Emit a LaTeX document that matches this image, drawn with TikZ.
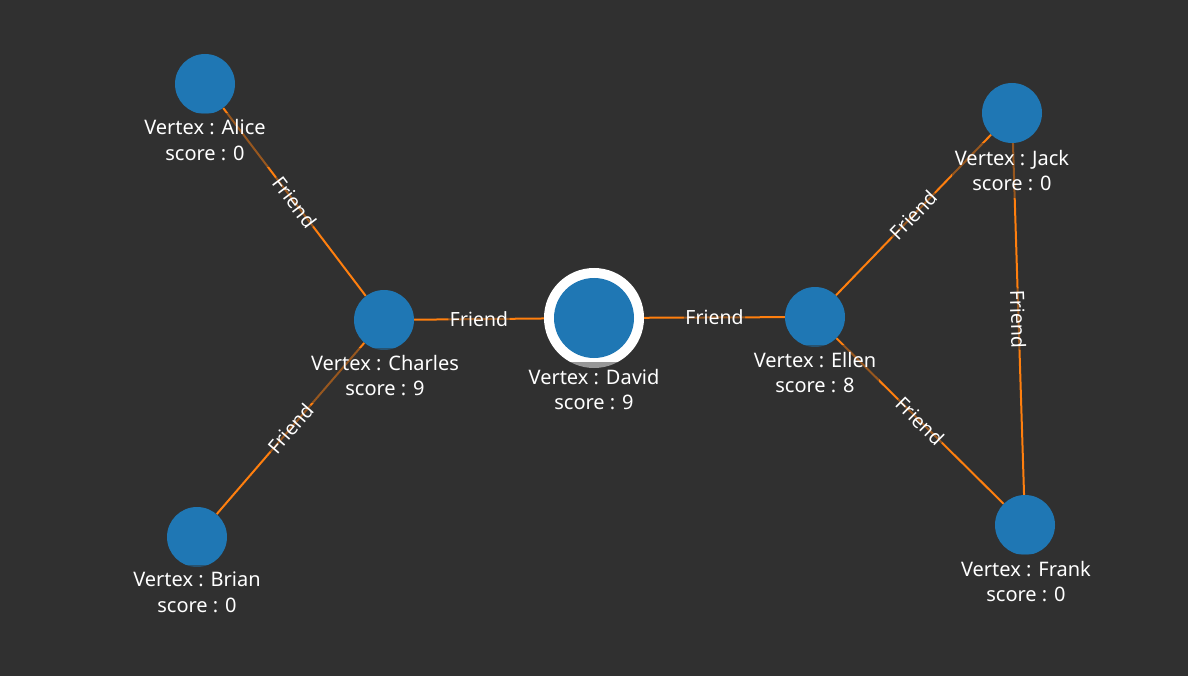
\documentclass[tikz,border=0pt]{standalone}
\usepackage{fontspec}
\setmainfont{Noto Sans}
\usetikzlibrary{backgrounds}
\definecolor{bg}{HTML}{303030}
\definecolor{nodeblue}{HTML}{1F77B4}
\definecolor{edgeor}{HTML}{FF7F0E}
\pgfdeclarelayer{edgelayer}
\pgfsetlayers{background,edgelayer,main}
\begin{document}
\begin{tikzpicture}[x=1pt,y=-1pt,
  vertex/.style={circle,fill=nodeblue,minimum size=60pt,inner sep=0pt},
  ring/.style={circle,fill=white,minimum size=100pt,inner sep=0pt},
  inner/.style={circle,fill=nodeblue,minimum size=80pt,inner sep=0pt},
  vlabel/.style={fill=bg,fill opacity=0.5,text opacity=1,text=white,align=center,
    font=\fontsize{20}{25.5}\selectfont,inner xsep=3pt,inner ysep=7pt},
  link/.style={draw=edgeor,line width=2pt},
  elabel/.style={sloped,midway,fill=bg,fill opacity=0.5,text opacity=1,text=white,
    font=\fontsize{19.5}{22}\selectfont,inner sep=1.5pt}]
\begin{scope}[on background layer]
\fill[bg] (0,0) rectangle (1188,676);
\end{scope}
\useasboundingbox (0,0) rectangle (1188,676);
% vertices
\node[vertex] (alice) at (205,84) {};
\node[vertex] (charles) at (384,320) {};
\node[vertex] (brian) at (197,537) {};
\node[ring] (david) at (594,318) {};
\node[inner] (davidin) at (594,318) {};
\node[vertex] (ellen) at (815,317) {};
\node[vertex] (jack) at (1012,113) {};
\node[vertex] (frank) at (1025,525) {};
% vertex labels
\node[vlabel] (alicel) at (205,140) {Vertex : Alice\\score : 0};
\node[vlabel] (charlesl) at (385,375.5) {Vertex : Charles\\score : 9};
\node[vlabel] (brianl) at (197,592.5) {Vertex : Brian\\score : 0};
\node[vlabel] (davidl) at (594,389.5) {Vertex : David\\score : 9};
\node[vlabel] (ellenl) at (815,372.5) {Vertex : Ellen\\score : 8};
\node[vlabel] (jackl) at (1012,170.5) {Vertex : Jack\\score : 0};
\node[vlabel] (frankl) at (1026,581.5) {Vertex : Frank\\score : 0};
% edges
\begin{pgfonlayer}{edgelayer}
\draw[link] (alice) -- node[elabel] (e1) {Friend} (charles);
\draw[link] (brian) -- node[elabel] (e2) {Friend} (charles);
\draw[link] (charles) -- node[elabel] (e3) {Friend} (david);
\draw[link] (david) -- node[elabel] (e4) {Friend} (ellen);
\draw[link] (ellen) -- node[elabel] (e5) {Friend} (jack);
\draw[link] (ellen) -- node[elabel] (e6) {Friend} (frank);
\draw[link] (jack) -- node[elabel] (e7) {Friend} (frank);
\end{pgfonlayer}
\end{tikzpicture}
\end{document}
